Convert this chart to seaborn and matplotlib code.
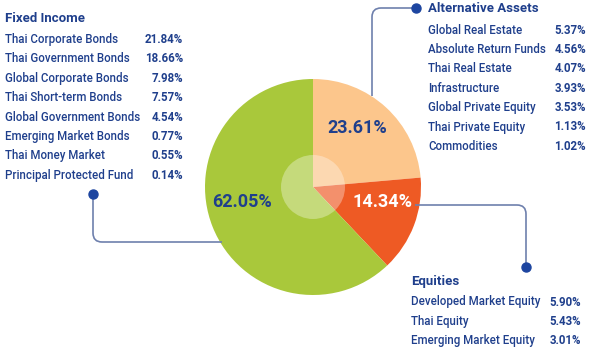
import matplotlib
matplotlib.use("Agg")
import matplotlib.pyplot as plt
import matplotlib.patches as mpatches
from matplotlib.path import Path
import seaborn as sns

# Asset allocation data
group_names = ["Alternative Assets", "Equities", "Fixed Income"]
group_share = [23.61, 14.34, 62.05]

fixed_income_names = ["Thai Corporate Bonds", "Thai Government Bonds", "Global Corporate Bonds",
                      "Thai Short-term Bonds", "Global Government Bonds", "Emerging Market Bonds",
                      "Thai Money Market", "Principal Protected Fund"]
fixed_income_share = [21.84, 18.66, 7.98, 7.57, 4.54, 0.77, 0.55, 0.14]

alternative_names = ["Global Real Estate", "Absolute Return Funds", "Thai Real Estate",
                     "Infrastructure", "Global Private Equity", "Thai Private Equity", "Commodities"]
alternative_share = [5.37, 4.56, 4.07, 3.93, 3.53, 1.13, 1.02]

equity_names = ["Developed Market Equity", "Thai Equity", "Emerging Market Equity"]
equity_share = [5.90, 5.43, 3.01]

sns.set_theme(style="white")
plt.rcParams['font.family'] = ['Roboto', 'DejaVu Sans']

NAVY = "#1f3f8c"
DOT = "#1d45a0"
LINE = "#6e80ad"
colors = ["#fcc68c", "#ee5a24", "#a9c83b"]

W, H = 600, 351
fig = plt.figure(figsize=(W / 100, H / 100), dpi=100)
ax = fig.add_axes([0, 0, 1, 1])


def Y(y):
    # convert from top-down pixel rows
    return H - y


cx, cy, r = 313, Y(187), 108
wedges, _ = ax.pie(group_share, colors=colors, startangle=90, counterclock=False,
                   center=(cx, cy), radius=r, frame=True,
                   wedgeprops=dict(linewidth=0))
ax.set_xlim(0, W)
ax.set_ylim(0, H)
ax.set_aspect("equal")
ax.axis("off")
ax.add_patch(mpatches.Circle((cx, cy), 32, facecolor="white", alpha=0.33, lw=0, zorder=3))

# percentage labels on the pie
ax.text(357, Y(128), f"{group_share[0]:.2f}%", color=NAVY, fontsize=13, fontweight="bold",
        ha="center", va="center", zorder=4)
ax.text(383, Y(202), f"{group_share[1]:.2f}%", color="white", fontsize=13, fontweight="bold",
        ha="center", va="center", zorder=4)
ax.text(242, Y(202), f"{group_share[2]:.2f}%", color=NAVY, fontsize=13, fontweight="bold",
        ha="center", va="center", zorder=4)


def block(x, y, title, names, shares, xval, step=19.4, y0=21):
    ax.text(x, Y(y), title, color=NAVY, fontsize=9.5, fontweight="bold", ha="left", va="center")
    for i, (n, s) in enumerate(zip(names, shares)):
        yy = Y(y + y0 + i * step)
        ax.text(x, yy, n, color=NAVY, fontsize=8.3, fontweight="medium", ha="left", va="center")
        ax.text(xval, yy, f"{s:.2f}%", color=NAVY, fontsize=8.3, fontweight="bold", ha="right", va="center")


block(5, 18.5, "Fixed Income", fixed_income_names, fixed_income_share, 183)
block(428, 8, "Alternative Assets", alternative_names, alternative_share, 586, y0=22)
block(411, 282, "Equities", equity_names, equity_share, 581, y0=20)


def connector(pts):
    # polyline with one rounded corner (start, corner, end)
    (x0, y0), (x1, y1), (x2, y2) = pts
    rad = 9

    def toward(a, b, d):
        dx, dy = b[0] - a[0], b[1] - a[1]
        ln = (dx ** 2 + dy ** 2) ** 0.5
        return (a[0] + dx / ln * d, a[1] + dy / ln * d)

    p1 = toward((x1, y1), (x0, y0), rad)
    p2 = toward((x1, y1), (x2, y2), rad)
    verts = [(x0, y0), p1, (x1, y1), p2, (x2, y2)]
    codes = [Path.MOVETO, Path.LINETO, Path.CURVE3, Path.CURVE3, Path.LINETO]
    ax.add_patch(mpatches.PathPatch(Path(verts, codes), fill=False, edgecolor=LINE, lw=1.2, zorder=1))


connector([(93, Y(194)), (93, Y(242)), (222, Y(242))])
ax.plot(93, Y(194), "o", color=DOT, ms=6.5, zorder=5)

connector([(416, Y(8)), (372, Y(8)), (372, Y(96))])
ax.plot(416, Y(8), "o", color=DOT, ms=6.5, zorder=5)

connector([(415, Y(205)), (526, Y(205)), (526, Y(267))])
ax.plot(526, Y(267), "o", color=DOT, ms=6.5, zorder=5)

fig.savefig("out.png", dpi=100, facecolor="white")
